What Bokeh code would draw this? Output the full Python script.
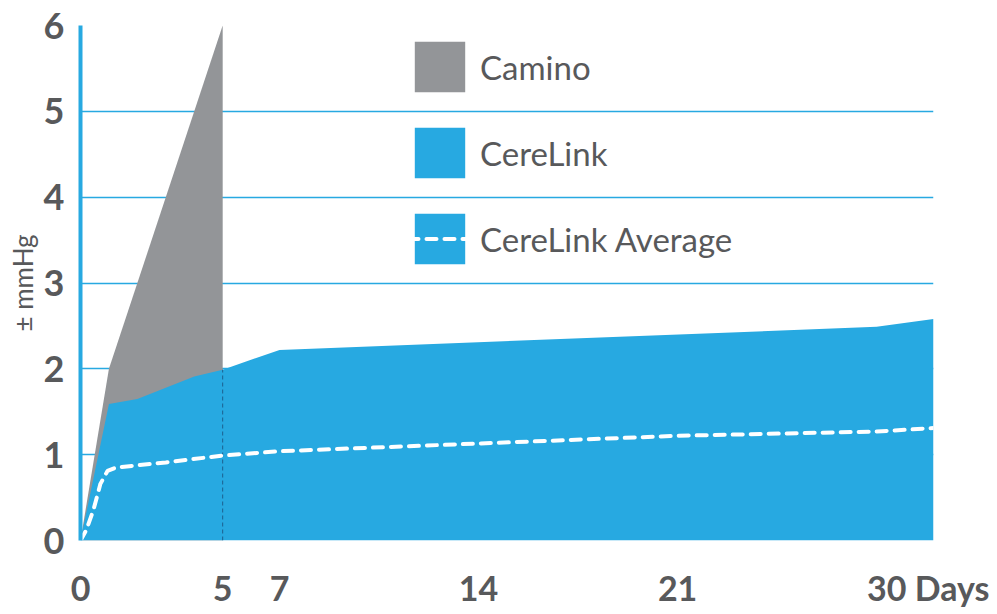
from bokeh.plotting import figure
from bokeh.models import Range1d, Legend, LegendItem, FixedTicker
from bokeh.embed import file_html
from bokeh.resources import INLINE

# ---- data ----
camino_days = [0, 1, 5]
camino_vals = [0, 2.0, 6.0]

cerelink_days = [0, 1, 2, 4, 5, 7, 28, 30]
cerelink_vals = [0, 1.59, 1.65, 1.91, 1.99, 2.22, 2.49, 2.58]

avg_days = [0, 0.2, 0.45, 0.7, 0.95, 1.25, 3, 5, 7, 14, 21, 28, 30]
avg_vals = [0, 0.12, 0.35, 0.66, 0.81, 0.85, 0.91, 0.99, 1.04, 1.13, 1.22, 1.27, 1.31]

marker_day = 5

x_ticks = [0, 5, 7, 14, 21, 30]
x_tick_labels = ["0", "5", "7", "14", "21", "30 Days"]
y_ticks = [0, 1, 2, 3, 4, 5, 6]

GRAY = "#939598"
BLUE = "#27a9e1"
TEXT = "#58595b"
FONT = "Lato"

p = figure(width=989, height=610, output_backend="svg", toolbar_location=None,
           x_range=Range1d(0, 30), y_range=Range1d(0, 6),
           min_border_left=80, min_border_right=56, min_border_top=25,
           min_border_bottom=60)
p.outline_line_color = None
p.background_fill_color = "white"
p.border_fill_color = "white"

camino = p.varea(x=camino_days, y1=[0] * len(camino_days), y2=camino_vals,
                 fill_color=GRAY)
cerelink = p.varea(x=cerelink_days, y1=[0] * len(cerelink_days), y2=cerelink_vals,
                   fill_color=BLUE)
mi = cerelink_days.index(marker_day)
p.segment(x0=[marker_day], y0=[0], x1=[marker_day], y1=[cerelink_vals[mi]],
          line_color="#1d5f8f", line_width=1, line_dash="4 3")
avg = p.line(avg_days, avg_vals, line_color="white", line_width=4,
             line_dash="10 8", line_cap="round")

# grid
p.xgrid.grid_line_color = None
p.ygrid.ticker = FixedTicker(ticks=y_ticks)
p.ygrid.grid_line_color = BLUE
p.ygrid.grid_line_width = 1.5

# axes
p.xaxis.ticker = FixedTicker(ticks=x_ticks)
p.xaxis.major_label_overrides = {t: l for t, l in zip(x_ticks, x_tick_labels)}
p.xaxis.axis_line_color = None
p.xaxis.major_tick_line_color = None
p.xaxis.minor_tick_line_color = None
p.xaxis.major_label_text_font = FONT
p.xaxis.major_label_text_font_style = "bold"
p.xaxis.major_label_text_font_size = "34px"
p.xaxis.major_label_text_color = TEXT
p.xaxis.major_label_standoff = 20

p.yaxis.ticker = FixedTicker(ticks=y_ticks)
p.yaxis.axis_line_color = BLUE
p.yaxis.axis_line_width = 4
p.yaxis.major_tick_line_color = None
p.yaxis.minor_tick_line_color = None
p.yaxis.major_label_text_font = FONT
p.yaxis.major_label_text_font_style = "bold"
p.yaxis.major_label_text_font_size = "36px"
p.yaxis.major_label_text_color = TEXT
p.yaxis.major_label_standoff = 10
p.yaxis.axis_label = "± mmHg"
p.yaxis.axis_label_text_font = FONT
p.yaxis.axis_label_text_font_style = "normal"
p.yaxis.axis_label_text_font_size = "26px"
p.yaxis.axis_label_text_color = TEXT
p.yaxis.axis_label_standoff = 2

legend = Legend(items=[
    LegendItem(label="Camino", renderers=[camino]),
    LegendItem(label="CereLink", renderers=[cerelink]),
    LegendItem(label="CereLink Average", renderers=[cerelink, avg]),
], location=(328, 270))
legend.glyph_width = 63
legend.glyph_height = 63
legend.label_height = 63
legend.spacing = 23
legend.padding = 0
legend.margin = 0
legend.label_standoff = 9
legend.border_line_color = None
legend.background_fill_alpha = 0
legend.label_text_font = FONT
legend.label_text_font_size = "33px"
legend.label_text_color = TEXT
p.add_layout(legend)

open("out.html", "w").write(file_html(p, INLINE))
